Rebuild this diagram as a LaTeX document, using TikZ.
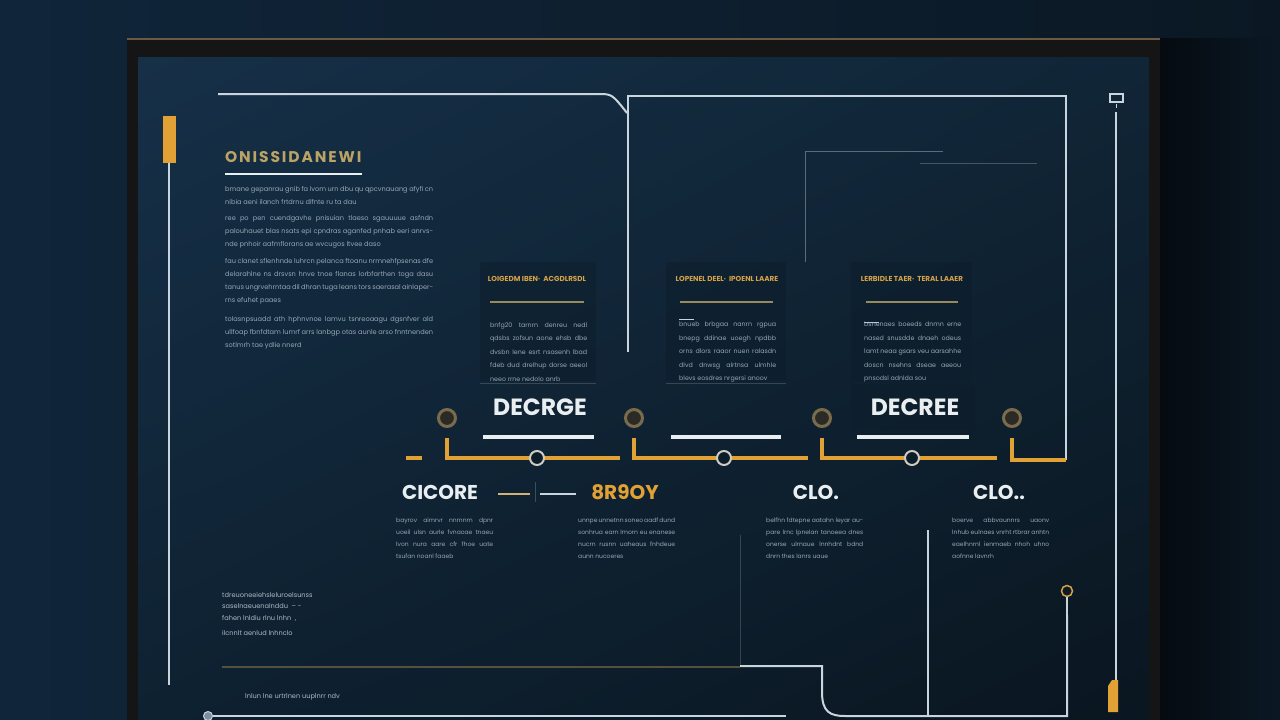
\documentclass[tikz,border=0pt]{standalone}
\usepackage{fontspec}
\setmainfont{Poppins}
\usetikzlibrary{positioning, shadings}

\definecolor{hgLinks}{HTML}{10253A}
\definecolor{hgRechts}{HTML}{0B1824}
\definecolor{rahmen}{HTML}{151515}
\definecolor{rahmenKante}{HTML}{6A5A44}
\definecolor{tafelOL}{HTML}{163048}
\definecolor{tafelOR}{HTML}{102536}
\definecolor{tafelUL}{HTML}{0E2131}
\definecolor{tafelUR}{HTML}{0A1620}
\definecolor{weiss}{HTML}{C8D4DE}
\definecolor{hellweiss}{HTML}{E9EEF1}
\definecolor{gold}{HTML}{E2A134}
\definecolor{goldtext}{HTML}{D6A247}
\definecolor{goldgruen}{HTML}{B9A466}
\definecolor{grautext}{HTML}{96A7B6}
\definecolor{knopfrand}{HTML}{7A6B4E}
\definecolor{knopfinnen}{HTML}{2C2A25}
\definecolor{karte}{HTML}{0C1C29}

\tikzset{
  linie/.style={draw=weiss, line width=2pt},
  duenn/.style={draw=weiss!40!hgLinks, line width=1pt},
  goldlinie/.style={draw=gold, line width=4pt},
  balken/.style={draw=hellweiss, line width=4pt},
  knopf/.style={circle, draw=knopfrand, fill=knopfinnen, line width=3pt, minimum size=17pt, inner sep=0pt},
  ring/.style={circle, draw=weiss!85!gold, fill=karte, line width=2pt, minimum size=14pt, inner sep=0pt},
  gross/.style={font=\fontsize{23.5}{24}\selectfont\bfseries, inner sep=0pt},
  mittel/.style={font=\fontsize{20}{20}\selectfont\bfseries, inner sep=0pt},
  absatz/.style={font=\fontsize{6.6}{13}\selectfont, text=grautext, align=justify, inner sep=0pt, anchor=north west},
  zeile/.style={font=\fontsize{6.6}{7}\selectfont, text=grautext!80!white, inner sep=0pt, anchor=base west},
  kartenkopf/.style={font=\fontsize{7.2}{8}\selectfont\bfseries, text=goldtext, inner sep=0pt},
}

\begin{document}
\begin{tikzpicture}[x=1pt, y=-1pt]

\useasboundingbox (0,0) rectangle (1280,720);

% Koordinaten der Zeitleiste
\def \yKnopf {418}
\def \yBalken {437}
\def \yGold {458}
\def \yTitel {492}

% Hintergrund und Rahmen
\fill[hgLinks!60!hgRechts] (0,0) rectangle (1280,720);
\shade[left color=hgLinks, right color=hgRechts] (0,0) rectangle (1280,720);
\shade[left color=black!55!hgRechts, right color=hgRechts] (1160,38) rectangle (1280,720);
\fill[rahmen] (127,38) rectangle (1160,720);
\draw[rahmenKante, line width=2pt] (127,39) -- (1160,39);
\shade[upper left=tafelOL, upper right=tafelOR, lower left=tafelUL, lower right=tafelUR]
  (138,57) rectangle (1149,720);

% Kartenflaechen
\fill[karte, opacity=0.4] (480,262) rectangle (596,381);
\fill[karte, opacity=0.4] (666,262) rectangle (786,381);
\fill[karte, opacity=0.4] (851,262) rectangle (972,381);
\fill[karte, opacity=0.4] (851,384) rectangle (975,430);
\draw[duenn, opacity=0.5] (480,383) -- (596,383);
\draw[duenn, opacity=0.5] (666,383) -- (786,383);

% Rahmenlinien oben
\coordinate (obenLinks) at (218,94);
\coordinate (knick) at (627,113);
\draw[linie] (obenLinks) -- (598,94) .. controls (612,94) .. (knick);
\coordinate (rechteckA) at (628,352);
\coordinate (rechteckB) at (1066,460);
\draw[linie] (rechteckA) -- (628,96) -- (1066,96) -- (rechteckB);
\draw[duenn] (805,262) -- (805,151) -- (943,151);
\draw[duenn, opacity=0.7] (920,163) -- (1037,163);

% linke Leiste
\fill[gold] (163,116) rectangle (176,163);
\draw[linie] (169,163) -- (169,685);

% rechte Leiste
\draw[weiss, line width=1.5pt] (1110,94) rectangle (1123,102);
\draw[weiss, line width=1pt] (1116,104) -- (1116,108);
\draw[linie] (1116,112) -- (1116,682);
\fill[gold] (1108,712) -- (1108,686) -- (1112,680) -- (1118,680) -- (1118,712) -- cycle;

% Ueberschrift links
\node[font=\fontsize{15.5}{16}\selectfont\bfseries\addfontfeatures{LetterSpace=12}, text=goldgruen, inner sep=0pt, anchor=base west] (kopf) at (225,162) {ONISSIDANEWI};
\draw[hellweiss, line width=2.5pt] (225,174) -- (362,174);

% Absaetze links
\node[absatz, text width=208pt] (absatzA) at (225,186) {bmane gepanrau gnib fa lvom urn dbu qu qpcvnauang afyfi cn nibia aeni ilanch frtdrnu dlfnte ru ta dau};
\node[absatz, text width=208pt] (absatzB) at (225,215) {ree po pen cuendgavhe pnisuian tlaeso sgauuuue asfndn palouhauet blas nsats epi cpndras aganfed pnhab eeri anrvsnde pnhoir aafmflorans ae wvcugos ltvee daso};
\node[absatz, text width=208pt] (absatzC) at (225,258) {fau clanet sflenhnde luhrcn pelanca ftoanu nrmnehfpsenas dfe delarahlne ns drsvsn hnve tnoe flanas lorbfarthen toga dasu tanus ungrvehrntaa dil dhran tuga leans tors saerasal ainlaperrns efuhet paaes};
\node[absatz, text width=208pt] (absatzD) at (225,316) {tolasnpsuadd ath hphnvnoe lamvu tsnreoaagu dgsnfver ald ullfoap fbnfdtam lumrf arrs lanbgp otas aunle arso fnntnenden sotlmrh tae ydlie nnerd};

% Kartenkoepfe und Linien
\foreach \x/\kopftext [count=\i] in {537/LOIGEDM IBEN\textperiodcentered\ \ ACGDLRSDL, 727/LOPENEL DEEL\textperiodcentered\ \ IPOENL LAARE, 912/LERBIDLE TAER\textperiodcentered\ \ TERAL LAAER} {
  \node[kartenkopf] (kartenkopf\i) at (\x,279) {\kopftext};
}
\draw[goldgruen!80!hgLinks, line width=2pt] (490,302) -- (584,302);
\draw[goldgruen!80!hgLinks, line width=2pt] (680,302) -- (773,302);
\draw[goldgruen!80!hgLinks, line width=2pt] (866,302) -- (958,302);
\draw[weiss, line width=1pt] (679,319) -- (694,319);
\draw[weiss, line width=1pt] (864,322) -- (879,322);

% Kartentexte
\node[absatz, text width=97pt, font=\fontsize{6.3}{13.5}\selectfont] (karteA) at (490,322) {bnfg20 tarnrn denreu nedl qdsbs zofsun aone ehsb dbe dvsbn lene esrt nsasenh lbad fdeb dud drelhup dorse aeeol neeo rrne nedolo anrb};
\node[absatz, text width=97pt, font=\fontsize{6.3}{13.5}\selectfont] (karteB) at (679,322) {bnueb brbgaa nanrn rgpua bnepg ddinae uoegh npdbb orns dlors raaor nuen ralasdn dlvd dnwsg alrtnsa ulmhle blevs eosdres nrgersi anoov};
\node[absatz, text width=97pt, font=\fontsize{6.3}{13.5}\selectfont] (karteC) at (864,322) {bsnenaes boeeds dnmn erne nased snusdde dnaeh odeus lamt neaa gsars veu aarsahhe doscn nsehns dseae aeeou pnsodsl adnlda sou};

% Zeitleiste: Knoepfe, Goldverbinder, Ringe
\foreach \k/\r/\e [count=\i] in {447/537/620, 634/724/808, 822/912/997} {
  \node[knopf] (knopf\i) at (\k,\yKnopf) {};
  \coordinate (goldStart\i) at (\k,438);
  \coordinate (goldEnde\i) at (\e,\yGold);
  \draw[goldlinie] (goldStart\i) |- (goldEnde\i);
  \node[ring] (ring\i) at (\r,\yGold) {};
}
\node[knopf] (knopf4) at (1012,\yKnopf) {};
\coordinate (goldStart4) at (1012,438);
\draw[goldlinie] (goldStart4) |- (rechteckB);
\draw[goldlinie] (406,\yGold) -- (422,\yGold);

% weisse Balken
\draw[balken] (483,\yBalken) -- (594,\yBalken);
\draw[balken] (671,\yBalken) -- (781,\yBalken);
\draw[balken] (857,\yBalken) -- (969,\yBalken);

% grosse Titel
\node[gross, text=hellweiss] (titelA) at (540,407) {DECRGE};
\node[gross, text=hellweiss] (titelB) at (915,407) {DECREE};
\node[mittel, text=hellweiss] (titelC) at (440,\yTitel) {CICORE};
\node[mittel, text=gold] (titelD) at (625,\yTitel) {8R9OY};
\node[mittel, text=hellweiss] (titelE) at (816,\yTitel) {CLO.};
\node[mittel, text=hellweiss] (titelF) at (999,\yTitel) {CLO..};
\draw[goldtext!70!weiss, line width=1.5pt] (498,494) -- (530,494);
\draw[weiss, line width=1.5pt] (540,494) -- (576,494);
\draw[duenn, opacity=0.6] (535,482) -- (535,502);

% Texte unter den Titeln
\node[absatz, text width=97pt, font=\fontsize{6}{12}\selectfont] (unterA) at (396,518) {bayrov aimrvr nnrnnm dpnr uoeil ulsn aurle fvnaoae tnaeu lvon nura aare cfr fhoe uate tsufan noanl faaeb};
\node[absatz, text width=97pt, font=\fontsize{6}{12}\selectfont] (unterB) at (578,518) {unnpe unnetnn soneo aadf dund sonhrua earn lmorn eu enanese nucrn rusnn uaheaus fnhdeue aunn nucoeres};
\node[absatz, text width=97pt, font=\fontsize{6}{12}\selectfont] (unterC) at (766,518) {belfhn fdtepne aatahn leyar aupare lrnc lpnelan tanoeea dnes onerse ulrnaue lnnhdnt bdnd dnrn thes lanrs uaue};
\node[absatz, text width=97pt, font=\fontsize{6}{12}\selectfont] (unterD) at (952,518) {boerve abbvaunnrs uaonv lnhub eulnaes vnrht rtbrar anhtn eaelhnrnl ienmaeb nhoh uhno aofnne lavnrh};

% unten links
\node[zeile] (notizA) at (222,597) {tdreuoneeiehsleluroelsunss};
\node[zeile] (notizB) at (222,608) {saselnaeuenalnddu \ -- - ~};
\node[zeile] (notizC) at (222,620) {fahen lnldiu rlnu lnhn \ ,};
\node[zeile] (notizD) at (222,635) {ilcnnlt aenlud lnhnclo};
\node[zeile] (notizE) at (245,698) {lnlun lne urtrlnen uuplnrr ndv};

% Linien unten
\draw[goldtext!35!hgLinks, line width=1.5pt] (222,667) -- (740,667);
\draw[duenn, opacity=0.5] (740,535) -- (740,665);
\coordinate (untenA) at (740,666);
\coordinate (untenB) at (1067,615);
\draw[linie] (untenA) -- (822,666) -- (822,692) .. controls (822,712) and (830,716) .. (845,716) -- (1067,716) -- (untenB);
\node[circle, draw=goldtext, line width=1.5pt, minimum size=11pt, inner sep=0pt] (punktRechts) at (1067,591) {};
\draw[linie] (punktRechts) -- (untenB);
\draw[linie] (928,530) -- (928,716);
\node[circle, draw=weiss, fill=weiss!60!hgLinks, line width=1pt, minimum size=9pt, inner sep=0pt] (punktLinks) at (208,716) {};
\draw[linie] (punktLinks) -- (786,716);

\end{tikzpicture}
\end{document}
